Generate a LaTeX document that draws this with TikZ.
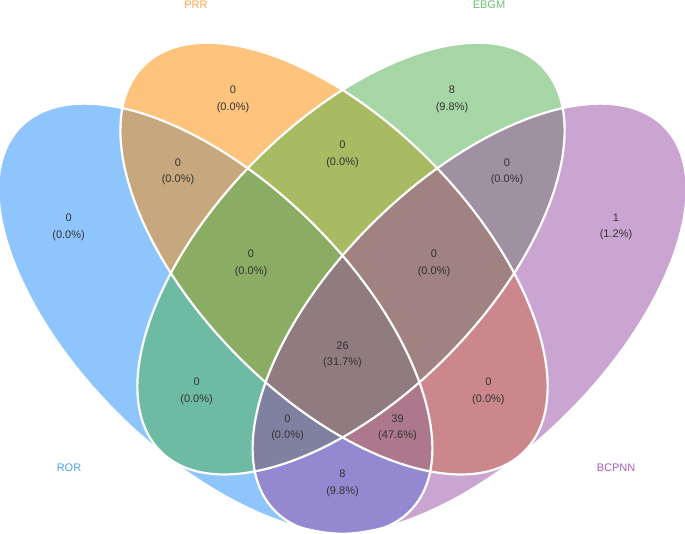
\documentclass[tikz,border=0pt]{standalone}
\usepackage{fontspec}
\setmainfont{Liberation Sans}
\usepackage{tikz}

\definecolor{rorc}{HTML}{8FC5FD}
\definecolor{prrc}{HTML}{FEC47E}
\definecolor{ebgmc}{HTML}{A6D6A5}
\definecolor{bcpnnc}{HTML}{CBA5D1}
\definecolor{rpc}{HTML}{C6A77E}
\definecolor{rec}{HTML}{6DBBA3}
\definecolor{rbc}{HTML}{9489D0}
\definecolor{pec}{HTML}{A8BA62}
\definecolor{pbc}{HTML}{CC878D}
\definecolor{ebc}{HTML}{A091A2}
\definecolor{rpec}{HTML}{8AAC63}
\definecolor{rpbc}{HTML}{AD788C}
\definecolor{rebc}{HTML}{8080A0}
\definecolor{pebc}{HTML}{A08280}
\definecolor{allc}{HTML}{8F7B80}
\definecolor{rortxt}{HTML}{4DA3F7}
\definecolor{prrtxt}{HTML}{FFA94D}
\definecolor{ebgmtxt}{HTML}{6CBF6A}
\definecolor{bcpnntxt}{HTML}{A95EBD}

\newcommand{\rorpath}{(215.4,214.2) ellipse [x radius=273.5pt, y radius=136.2pt, rotate=-44.6]}
\newcommand{\prrpath}{(334,274.4) ellipse [x radius=271pt, y radius=137pt, rotate=-45.5]}
\newcommand{\ebgmpath}{(351,274.4) ellipse [x radius=271pt, y radius=137pt, rotate=45.5]}
\newcommand{\bcpnnpath}{(469.6,214.2) ellipse [x radius=273.5pt, y radius=136.2pt, rotate=44.6]}

\begin{document}
\begin{tikzpicture}[
          x=1pt,
          y=1pt,
          cnt/.style={align=center, text=black!80, font=\fontsize{11}{16.7}\selectfont},
          setlbl/.style={font=\fontsize{11}{13}\selectfont},
          rim/.style={draw=white, line width=2.2pt},
        ]
      \useasboundingbox (0,0) rectangle (685,533);
      \clip (0,0) rectangle (685,533);
      % one set
      \fill[rorc] \rorpath;
      \fill[prrc] \prrpath;
      \fill[ebgmc] \ebgmpath;
      \fill[bcpnnc] \bcpnnpath;
      % two sets
      \begin{scope}
        \clip \rorpath;
        \fill[rpc] \prrpath;
        \fill[rec] \ebgmpath;
        \fill[rbc] \bcpnnpath;
      \end{scope}
      \begin{scope}
        \clip \prrpath;
        \fill[pec] \ebgmpath;
        \fill[pbc] \bcpnnpath;
      \end{scope}
      \begin{scope}
        \clip \ebgmpath;
        \fill[ebc] \bcpnnpath;
      \end{scope}
      % three sets
      \begin{scope}
        \clip \rorpath;
        \clip \prrpath;
        \fill[rpec] \ebgmpath;
        \fill[rpbc] \bcpnnpath;
      \end{scope}
      \begin{scope}
        \clip \rorpath;
        \clip \ebgmpath;
        \fill[rebc] \bcpnnpath;
      \end{scope}
      \begin{scope}
        \clip \prrpath;
        \clip \ebgmpath;
        \fill[pebc] \bcpnnpath;
      \end{scope}
      % four sets
      \begin{scope}
        \clip \rorpath;
        \clip \prrpath;
        \clip \ebgmpath;
        \fill[allc] \bcpnnpath;
      \end{scope}
      \draw[rim] \rorpath;
      \draw[rim] \prrpath;
      \draw[rim] \ebgmpath;
      \draw[rim] \bcpnnpath;
      % counts
      \node[cnt] (r) at (68.6, 306) {0\\(0.0\%)};
      \node[cnt] (p) at (233, 434) {0\\(0.0\%)};
      \node[cnt] (e) at (452, 434) {8\\(9.8\%)};
      \node[cnt] (b) at (616, 306) {1\\(1.2\%)};
      \node[cnt] (rp) at (178, 361.3) {0\\(0.0\%)};
      \node[cnt] (pe) at (342.5, 379) {0\\(0.0\%)};
      \node[cnt] (eb) at (507, 361.3) {0\\(0.0\%)};
      \node[cnt] (rpe) at (251, 269.6) {0\\(0.0\%)};
      \node[cnt] (peb) at (434, 269.6) {0\\(0.0\%)};
      \node[cnt] (re) at (196.6, 142) {0\\(0.0\%)};
      \node[cnt] (pb) at (488.4, 142) {0\\(0.0\%)};
      \node[cnt] (rpeb) at (342.5, 178.3) {26\\(31.7\%)};
      \node[cnt] (reb) at (287.5, 105.2) {0\\(0.0\%)};
      \node[cnt] (rpb) at (397.5, 105.2) {39\\(47.6\%)};
      \node[cnt] (rb) at (342.5, 50) {8\\(9.8\%)};
      % set names
      \node[setlbl, text=prrtxt] (lprr) at (196, 528.5) {PRR};
      \node[setlbl, text=ebgmtxt] (lebgm) at (489, 528.5) {EBGM};
      \node[setlbl, text=rortxt] (lror) at (69, 65.5) {ROR};
      \node[setlbl, text=bcpnntxt] (lbcpnn) at (616, 65.5) {BCPNN};
    \end{tikzpicture}
\end{document}
